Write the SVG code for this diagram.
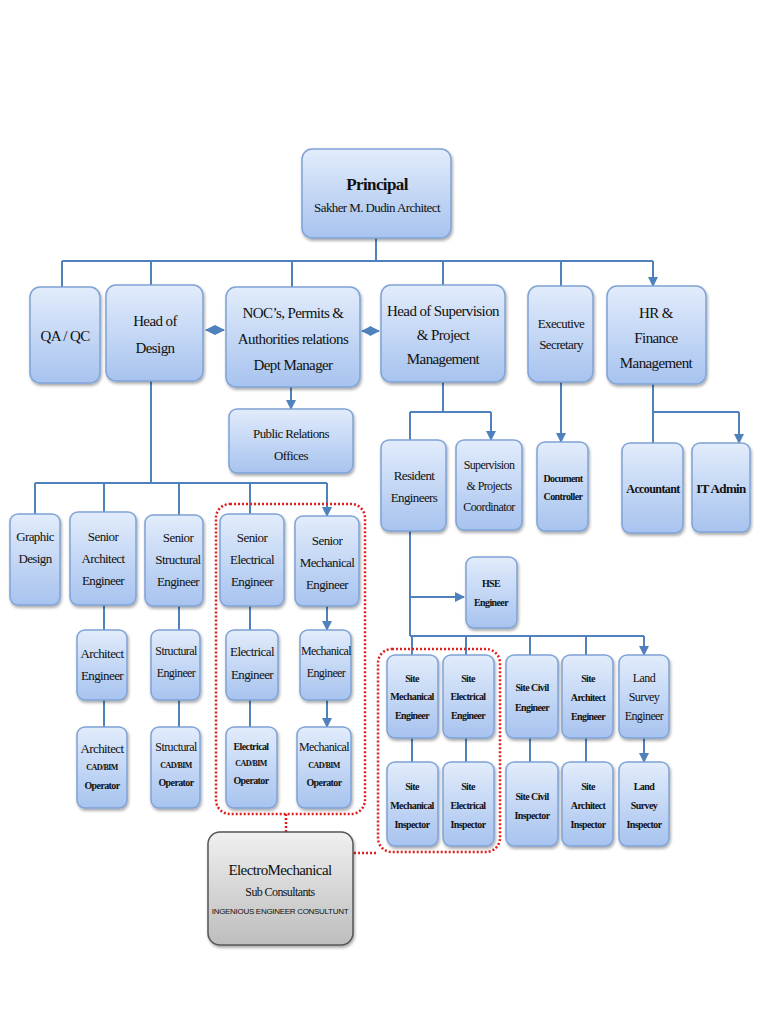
<svg xmlns="http://www.w3.org/2000/svg" width="768" height="1024" viewBox="0 0 768 1024">
<defs>
<linearGradient id="bg" x1="0" y1="0" x2="0" y2="1"><stop offset="0" stop-color="#e2ecfb"/><stop offset="1" stop-color="#a7c3ef"/></linearGradient>
<linearGradient id="gg" x1="0" y1="0" x2="0" y2="1"><stop offset="0" stop-color="#f0f0f0"/><stop offset="1" stop-color="#bdbdbd"/></linearGradient>
<marker id="ar" viewBox="0 0 10 10" refX="9" refY="5" markerWidth="5" markerHeight="5" orient="auto-start-reverse"><path d="M0,0L10,5L0,10z" fill="#4f81bd"/></marker>
<filter id="sh" x="-10%" y="-10%" width="130%" height="130%"><feDropShadow dx="1" dy="2" stdDeviation="1.5" flood-color="#000" flood-opacity="0.35"/></filter>
</defs>
<style>
.n{fill:url(#bg);stroke:#7fa3d6;stroke-width:1.5;filter:url(#sh)}
.g{fill:url(#gg);stroke:#555;stroke-width:1.5;filter:url(#sh)}
text{font-family:"Liberation Serif",serif;fill:#111;text-anchor:middle;letter-spacing:-0.6px}
.c{stroke:#4f81bd;stroke-width:2;fill:none}
.a{marker-end:url(#ar)}
.d{stroke:#e02020;stroke-width:2.5;fill:none;stroke-dasharray:2 2}
.f15{font-size:15px}.f13{font-size:13px}.f12{font-size:12px}.f10{font-size:10px;font-weight:bold}.f8{font-size:8px;font-weight:bold}
</style>
<g id="connectors">
<path class="c" d="M376,238V261M62,261H653"/>
<path class="c a" d="M62,261V287M151,261V285M292,261V287M443,261V285M561,261V286M653,261V286"/>
<path class="c a" d="M206,330H224" marker-start="url(#ar)"/>
<path class="c a" d="M362,331H379" marker-start="url(#ar)"/>
<path class="c a" d="M291,387V409"/>
<path class="c" d="M443,382V412M410,412H491"/>
<path class="c a" d="M410,412V440M491,412V440"/>
<path class="c a" d="M561,382V442"/>
<path class="c" d="M653,384V412M653,412H739"/>
<path class="c a" d="M653,412V443M739,412V443"/>
<path class="c" d="M151,381V483M35,483H327"/>
<path class="c a" d="M35,483V514M104,483V512M179,483V515M250,483V514M327,483V516"/>
<path class="c a" d="M104,605V630M179,606V630M250,606V630M327,606V630"/>
<path class="c a" d="M104,700V727M179,700V727M250,700V727M327,700V727"/>
<path class="c" d="M410,531V636M410,636H644"/>
<path class="c a" d="M410,597H464"/>
<path class="c a" d="M412,636V655M466,636V655M530,636V655M586,636V655M644,636V655"/>
<path class="c a" d="M412,738V762M466,738V762M530,738V762M586,738V762M644,738V762"/>
<rect class="d" x="216" y="504" width="149" height="310" rx="14"/>
<rect class="d" x="378" y="649" width="122" height="203" rx="14"/>
<path class="d" d="M286,814V832M354,853H378"/>
</g>
<g id="principal"><rect class="n" x="302" y="149" width="149" height="89" rx="10"/><text x="377" y="190" style="font-size:17px;font-weight:bold">Principal</text><text x="377" y="212" class="f13">Sakher M. Dudin Architect</text></g>
<g id="qaqc"><rect class="n" x="30" y="287" width="70" height="96" rx="10"/><text x="65" y="341" class="f15">QA / QC</text></g>
<g id="head-design"><rect class="n" x="106" y="285" width="97" height="96" rx="10"/><text x="155" y="326" class="f15">Head of</text><text x="155" y="353" class="f15">Design</text></g>
<g id="noc"><rect class="n" x="226" y="287" width="134" height="100" rx="10"/><text x="293" y="318" class="f15">NOC’s, Permits &amp;</text><text x="293" y="344" class="f15">Authorities relations</text><text x="293" y="370" class="f15">Dept Manager</text></g>
<g id="head-supervision"><rect class="n" x="381" y="285" width="124" height="97" rx="10"/><text x="443" y="316" class="f15">Head of Supervision</text><text x="443" y="340" class="f15">&amp; Project</text><text x="443" y="364" class="f15">Management</text></g>
<g id="exec-sec"><rect class="n" x="528" y="286" width="65" height="96" rx="10"/><text x="561" y="328" class="f13">Executive</text><text x="561" y="349" class="f13">Secretary</text></g>
<g id="hr"><rect class="n" x="607" y="286" width="99" height="98" rx="10"/><text x="656" y="318" class="f15">HR &amp;</text><text x="656" y="343" class="f15">Finance</text><text x="656" y="368" class="f15">Management</text></g>
<g id="public-relations"><rect class="n" x="229" y="409" width="124" height="64" rx="8"/><text x="291" y="438" class="f13">Public Relations</text><text x="291" y="460" class="f13">Offices</text></g>
<g id="resident"><rect class="n" x="381" y="440" width="65" height="91" rx="8"/><text x="414" y="480" class="f13">Resident</text><text x="414" y="502" class="f13">Engineers</text></g>
<g id="sup-coord"><rect class="n" x="456" y="440" width="66" height="90" rx="8"/><text x="489" y="469" class="f12">Supervision</text><text x="489" y="490" class="f12">&amp; Projects</text><text x="489" y="511" class="f12">Coordinator</text></g>
<g id="doc-controller"><rect class="n" x="537" y="442" width="51" height="89" rx="8"/><text x="563" y="482" class="f10">Document</text><text x="563" y="500" class="f10">Controller</text></g>
<g id="accountant"><rect class="n" x="622" y="443" width="61" height="90" rx="8"/><text x="653" y="493" class="f12" style="font-weight:bold">Accountant</text></g>
<g id="it-admin"><rect class="n" x="692" y="443" width="58" height="89" rx="8"/><text x="721" y="493" class="f13" style="font-weight:bold">IT Admin</text></g>
<g id="graphic"><rect class="n" x="10" y="514" width="50" height="91" rx="8"/><text x="35" y="541" class="f13">Graphic</text><text x="35" y="563" class="f13">Design</text></g>
<g id="sr-arch"><rect class="n" x="70" y="512" width="66" height="93" rx="8"/><text x="103" y="541" class="f13">Senior</text><text x="103" y="563" class="f13">Architect</text><text x="103" y="585" class="f13">Engineer</text></g>
<g id="sr-struct"><rect class="n" x="145" y="515" width="58" height="91" rx="8"/><text x="178" y="542" class="f13">Senior</text><text x="178" y="564" class="f13">Structural</text><text x="178" y="586" class="f13">Engineer</text></g>
<g id="sr-elec"><rect class="n" x="220" y="514" width="64" height="92" rx="8"/><text x="252" y="542" class="f13">Senior</text><text x="252" y="564" class="f13">Electrical</text><text x="252" y="586" class="f13">Engineer</text></g>
<g id="sr-mech"><rect class="n" x="295" y="516" width="64" height="90" rx="8"/><text x="327" y="545" class="f13">Senior</text><text x="327" y="567" class="f13">Mechanical</text><text x="327" y="589" class="f13">Engineer</text></g>
<g id="arch-eng"><rect class="n" x="77" y="630" width="50" height="70" rx="8"/><text x="102" y="658" class="f13">Architect</text><text x="102" y="680" class="f13">Engineer</text></g>
<g id="struct-eng"><rect class="n" x="151" y="630" width="49" height="70" rx="8"/><text x="176" y="655" class="f12">Structural</text><text x="176" y="677" class="f12">Engineer</text></g>
<g id="elec-eng"><rect class="n" x="226" y="630" width="52" height="70" rx="8"/><text x="252" y="656" class="f13">Electrical</text><text x="252" y="679" class="f13">Engineer</text></g>
<g id="mech-eng"><rect class="n" x="300" y="630" width="51" height="70" rx="8"/><text x="326" y="655" class="f12">Mechanical</text><text x="326" y="677" class="f12">Engineer</text></g>
<g id="arch-cad"><rect class="n" x="77" y="727" width="50" height="81" rx="8"/><text x="102" y="753" class="f13">Architect</text><text x="102" y="770" class="f8">CAD/BIM</text><text x="102" y="789" class="f10">Operator</text></g>
<g id="struct-cad"><rect class="n" x="151" y="727" width="49" height="81" rx="8"/><text x="176" y="751" class="f12">Structural</text><text x="176" y="768" class="f8">CAD/BIM</text><text x="176" y="786" class="f10">Operator</text></g>
<g id="elec-cad"><rect class="n" x="226" y="727" width="51" height="81" rx="8"/><text x="251" y="750" class="f10">Electrical</text><text x="251" y="766" class="f8">CAD/BIM</text><text x="251" y="784" class="f10">Operator</text></g>
<g id="mech-cad"><rect class="n" x="297" y="727" width="54" height="81" rx="8"/><text x="324" y="751" class="f12">Mechanical</text><text x="324" y="768" class="f8">CAD/BIM</text><text x="324" y="786" class="f10">Operator</text></g>
<g id="hse"><rect class="n" x="466" y="557" width="51" height="71" rx="8"/><text x="491" y="587" class="f10">HSE</text><text x="491" y="606" class="f10">Engineer</text></g>
<g id="site-mech"><rect class="n" x="387" y="655" width="51" height="83" rx="8"/><text x="412" y="682" class="f10">Site</text><text x="412" y="700" class="f10">Mechanical</text><text x="412" y="719" class="f10">Engineer</text></g>
<g id="site-elec"><rect class="n" x="443" y="655" width="51" height="83" rx="8"/><text x="468" y="682" class="f10">Site</text><text x="468" y="700" class="f10">Electrical</text><text x="468" y="719" class="f10">Engineer</text></g>
<g id="site-civil"><rect class="n" x="506" y="655" width="52" height="83" rx="8"/><text x="532" y="691" class="f10">Site Civil</text><text x="532" y="711" class="f10">Engineer</text></g>
<g id="site-arch"><rect class="n" x="562" y="655" width="51" height="83" rx="8"/><text x="588" y="682" class="f10">Site</text><text x="588" y="701" class="f10">Architect</text><text x="588" y="720" class="f10">Engineer</text></g>
<g id="land-survey"><rect class="n" x="619" y="655" width="50" height="83" rx="8"/><text x="644" y="682" class="f12">Land</text><text x="644" y="701" class="f12">Survey</text><text x="644" y="720" class="f12">Engineer</text></g>
<g id="site-mech-insp"><rect class="n" x="387" y="762" width="51" height="84" rx="8"/><text x="412" y="790" class="f10">Site</text><text x="412" y="809" class="f10">Mechanical</text><text x="412" y="828" class="f10">Inspector</text></g>
<g id="site-elec-insp"><rect class="n" x="443" y="762" width="51" height="84" rx="8"/><text x="468" y="790" class="f10">Site</text><text x="468" y="809" class="f10">Electrical</text><text x="468" y="828" class="f10">Inspector</text></g>
<g id="site-civil-insp"><rect class="n" x="506" y="762" width="52" height="84" rx="8"/><text x="532" y="800" class="f10">Site Civil</text><text x="532" y="819" class="f10">Inspector</text></g>
<g id="site-arch-insp"><rect class="n" x="562" y="762" width="51" height="84" rx="8"/><text x="588" y="790" class="f10">Site</text><text x="588" y="809" class="f10">Architect</text><text x="588" y="828" class="f10">Inspector</text></g>
<g id="land-survey-insp"><rect class="n" x="619" y="762" width="50" height="84" rx="8"/><text x="644" y="790" class="f10">Land</text><text x="644" y="809" class="f10">Survey</text><text x="644" y="828" class="f10">Inspector</text></g>
<g id="electromechanical"><rect class="g" x="208" y="832" width="145" height="113" rx="12"/><text x="280" y="875" class="f15">ElectroMechanical</text><text x="280" y="896" class="f12">Sub Consultants</text><text x="280" y="914" style="font-family:'Liberation Sans',sans-serif;font-size:8px;letter-spacing:-0.3px">INGENIOUS ENGINEER CONSULTUNT</text></g>
</svg>
